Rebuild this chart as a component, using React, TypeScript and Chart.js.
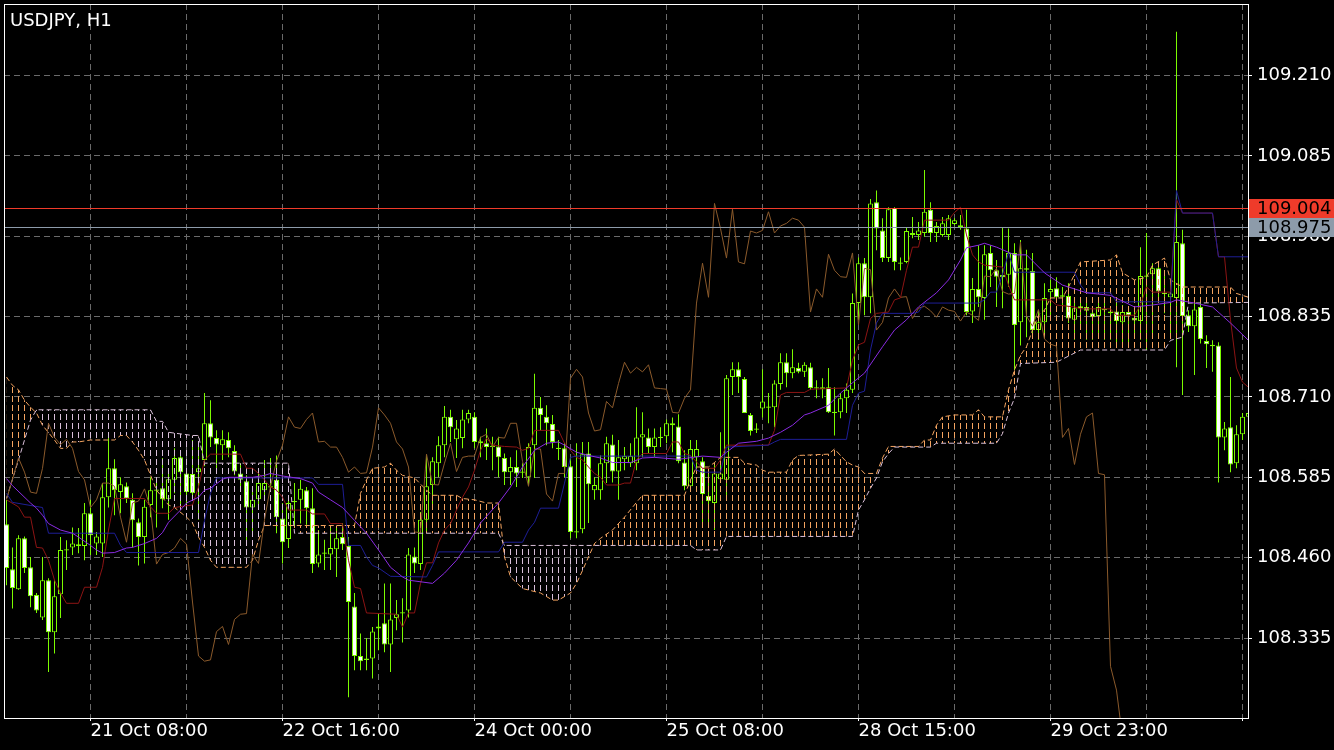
import React, { useEffect, useRef } from "react";
import { Chart, registerables } from "chart.js";

Chart.register(...registerables);
Chart.defaults.font.family = "'DejaVu Sans'";

const title = "USDJPY, H1";
const askPrice = 109.004;
const bidPrice = 108.975;
const yMin = 108.2106;
const yMax = 109.3212;
const yTicks = [108.335, 108.46, 108.585, 108.71, 108.835, 108.96, 109.085, 109.21];
const xTickIdx = [14, 30, 46, 62, 78, 94, 110, 126, 142, 158, 174, 190, 206];
const xLabelIdx = [14, 46, 78, 110, 142, 174, 206];
const xLabels: Record<number, string> = {
  14: "21 Oct 08:00",
  46: "22 Oct 16:00",
  78: "24 Oct 00:00",
  110: "25 Oct 08:00",
  142: "28 Oct 15:00",
  174: "29 Oct 23:00",
};

const opens = [
  108.512,108.442,108.411,108.490,108.445,108.402,108.367,108.425,108.344,108.403,
  108.473,108.476,108.481,108.478,108.529,108.482,108.482,108.554,108.599,108.562,
  108.571,108.550,108.515,108.492,108.542,108.566,108.568,108.551,108.581,108.616,
  108.591,108.590,108.593,108.612,108.669,108.646,108.635,108.643,108.626,108.591,
  108.579,108.538,108.551,108.565,108.569,108.581,108.521,108.489,108.546,108.550,
  108.565,108.537,108.451,108.466,108.465,108.473,108.492,108.478,108.384,108.307,
  108.303,108.303,108.350,108.358,108.325,108.366,108.375,108.378,108.462,108.450,
  108.519,108.573,108.607,108.635,108.679,108.644,108.646,108.675,108.679,108.638,
  108.638,108.634,108.633,108.615,108.593,108.601,108.594,108.585,108.635,108.693,
  108.679,108.668,108.631,108.630,108.602,108.501,108.504,108.622,108.565,108.565,
  108.607,108.636,108.594,108.613,108.607,108.607,108.647,108.647,108.632,108.648,
  108.649,108.666,108.664,108.608,108.571,108.616,108.610,108.556,108.545,108.582,
  108.581,108.741,108.753,108.738,108.682,108.661,108.692,108.695,108.694,108.730,
  108.764,108.747,108.755,108.749,108.756,108.725,108.725,108.725,108.687,108.686,
  108.708,108.721,108.856,108.918,108.865,109.013,108.969,108.926,109.004,108.919,
  108.920,108.962,108.962,108.965,109.001,108.965,108.962,108.962,108.979,108.977,
  108.972,108.843,108.878,108.864,108.934,108.907,108.900,108.900,108.934,108.826,
  108.910,108.906,108.814,108.826,108.873,108.879,108.868,108.867,108.830,108.848,
  108.850,108.840,108.836,108.847,108.840,108.843,108.826,108.842,108.833,108.828,
  108.899,108.901,108.910,108.872,108.865,108.864,108.949,108.837,108.820,108.850,
  108.797,108.791,108.790,108.647,108.663,108.607,108.652,108.679,
];
const highs = [
  108.550,108.476,108.495,108.493,108.461,108.405,108.461,108.428,108.425,108.492,
  108.487,108.507,108.506,108.545,108.550,108.500,108.576,108.654,108.613,108.585,
  108.577,108.560,108.521,108.550,108.585,108.585,108.615,108.596,108.630,108.622,
  108.596,108.643,108.632,108.716,108.705,108.658,108.658,108.655,108.635,108.607,
  108.588,108.570,108.591,108.612,108.615,108.619,108.545,108.554,108.576,108.581,
  108.570,108.568,108.503,108.488,108.507,108.507,108.514,108.492,108.405,108.342,
  108.335,108.352,108.374,108.420,108.420,108.394,108.397,108.475,108.476,108.531,
  108.620,108.616,108.649,108.696,108.690,108.674,108.690,108.690,108.686,108.648,
  108.661,108.648,108.648,108.622,108.616,108.627,108.607,108.638,108.746,108.710,
  108.697,108.682,108.643,108.638,108.616,108.638,108.640,108.640,108.585,108.619,
  108.648,108.651,108.643,108.632,108.638,108.694,108.686,108.661,108.661,108.663,
  108.675,108.678,108.683,108.627,108.643,108.643,108.616,108.591,108.607,108.655,
  108.744,108.764,108.764,108.741,108.685,108.669,108.753,108.716,108.736,108.778,
  108.778,108.784,108.763,108.764,108.763,108.736,108.739,108.755,108.725,108.716,
  108.731,108.871,108.927,108.926,109.018,109.031,108.988,109.005,109.005,108.927,
  108.974,108.990,108.982,109.063,109.013,108.982,108.990,108.993,108.988,108.993,
  109.001,108.895,108.946,108.946,108.946,108.923,108.974,108.972,108.949,108.954,
  108.939,108.934,108.845,108.887,108.892,108.896,108.881,108.887,108.861,108.865,
  108.856,108.850,108.861,108.856,108.850,108.856,108.853,108.850,108.845,108.943,
  108.965,108.918,108.918,108.900,108.892,109.278,108.970,108.845,108.865,108.856,
  108.806,108.798,108.795,108.671,108.741,108.666,108.685,108.690,
];
const lows = [
  108.417,108.381,108.410,108.436,108.383,108.374,108.363,108.282,108.311,108.366,
  108.441,108.464,108.467,108.456,108.464,108.464,108.461,108.538,108.526,108.529,
  108.545,108.476,108.448,108.451,108.523,108.507,108.537,108.519,108.560,108.538,
  108.534,108.550,108.519,108.602,108.632,108.596,108.612,108.616,108.588,108.570,
  108.487,108.492,108.538,108.554,108.562,108.498,108.451,108.475,108.507,108.513,
  108.511,108.436,108.445,108.441,108.441,108.430,108.472,108.243,108.285,108.285,
  108.285,108.272,108.316,108.313,108.282,108.347,108.328,108.367,108.436,108.441,
  108.500,108.538,108.585,108.616,108.640,108.615,108.630,108.669,108.630,108.616,
  108.612,108.596,108.585,108.573,108.573,108.570,108.584,108.573,108.584,108.658,
  108.635,108.630,108.612,108.585,108.490,108.490,108.498,108.514,108.550,108.550,
  108.576,108.577,108.550,108.596,108.601,108.596,108.616,108.622,108.616,108.632,
  108.638,108.624,108.607,108.565,108.568,108.591,108.506,108.506,108.503,108.581,
  108.550,108.713,108.716,108.685,108.650,108.654,108.678,108.669,108.663,108.721,
  108.725,108.739,108.747,108.741,108.721,108.708,108.708,108.685,108.650,108.677,
  108.685,108.716,108.830,108.837,108.840,108.938,108.920,108.920,108.907,108.907,
  108.918,108.957,108.954,108.959,108.951,108.951,108.959,108.954,108.977,108.970,
  108.837,108.825,108.850,108.830,108.881,108.850,108.848,108.881,108.752,108.790,
  108.803,108.809,108.799,108.809,108.830,108.856,108.845,108.825,108.799,108.814,
  108.799,108.799,108.803,108.799,108.799,108.787,108.793,108.787,108.809,108.799,
  108.783,108.803,108.865,108.840,108.809,108.756,108.713,108.811,108.744,108.793,
  108.755,108.749,108.577,108.627,108.593,108.599,108.643,108.671,
];
const closes = [
  108.444,108.413,108.490,108.444,108.400,108.378,108.425,108.344,108.400,108.472,
  108.471,108.482,108.478,108.529,108.495,108.493,108.554,108.599,108.565,108.574,
  108.552,108.518,108.492,108.539,108.565,108.564,108.551,108.582,108.615,108.593,
  108.562,108.560,108.599,108.669,108.647,108.636,108.644,108.630,108.594,108.581,
  108.538,108.550,108.576,108.576,108.571,108.523,108.484,108.545,108.548,108.567,
  108.537,108.450,108.465,108.468,108.475,108.490,108.481,108.391,108.307,108.299,
  108.301,108.345,108.353,108.325,108.364,108.372,108.373,108.465,108.451,108.519,
  108.571,108.610,108.635,108.679,108.663,108.661,108.675,108.685,108.640,108.641,
  108.632,108.632,108.616,108.593,108.601,108.591,108.592,108.632,108.693,108.682,
  108.669,108.640,108.629,108.601,108.500,108.499,108.621,108.574,108.573,108.607,
  108.638,108.594,108.616,108.618,108.618,108.647,108.652,108.632,108.647,108.646,
  108.669,108.669,108.610,108.571,108.629,108.629,108.559,108.548,108.591,108.591,
  108.739,108.753,108.741,108.685,108.657,108.659,108.703,108.693,108.731,108.764,
  108.747,108.756,108.749,108.760,108.724,108.723,108.722,108.686,108.685,108.708,
  108.721,108.856,108.918,108.865,109.011,108.972,108.926,109.002,108.920,108.917,
  108.968,108.965,108.969,108.998,108.965,108.976,108.980,108.988,108.985,108.974,
  108.842,108.878,108.865,108.932,108.907,108.897,108.896,108.934,108.822,108.910,
  108.908,108.814,108.826,108.864,108.878,108.865,108.866,108.832,108.848,108.851,
  108.844,108.834,108.850,108.845,108.843,108.828,108.842,108.837,108.829,108.898,
  108.897,108.910,108.874,108.870,108.871,108.951,108.836,108.820,108.846,108.800,
  108.792,108.789,108.647,108.661,108.605,108.652,108.679,108.685,
];

// Chikou span (brown), one value per bar starting at bar 0
const chikou = [
  108.551,108.582,108.615,108.593,
  108.562,108.560,108.599,108.669,108.647,108.636,108.644,108.630,108.594,108.581,
  108.538,108.550,108.576,108.576,108.571,108.523,108.484,108.545,108.548,108.567,
  108.537,108.450,108.465,108.468,108.475,108.490,108.481,108.391,108.307,108.299,
  108.301,108.345,108.353,108.325,108.364,108.372,108.373,108.465,108.451,108.519,
  108.571,108.610,108.635,108.679,108.663,108.661,108.675,108.685,108.640,108.641,
  108.632,108.632,108.616,108.593,108.601,108.591,108.592,108.632,108.693,108.682,
  108.669,108.640,108.629,108.601,108.500,108.499,108.621,108.574,108.573,108.607,
  108.638,108.594,108.616,108.618,108.618,108.647,108.652,108.632,108.647,108.646,
  108.669,108.669,108.610,108.571,108.629,108.629,108.559,108.548,108.591,108.591,
  108.739,108.753,108.741,108.685,108.657,108.659,108.703,108.693,108.731,108.764,
  108.747,108.756,108.749,108.760,108.724,108.723,108.722,108.686,108.685,108.708,
  108.721,108.856,108.918,108.865,109.011,108.972,108.926,109.002,108.920,108.917,
  108.968,108.965,108.969,108.998,108.965,108.976,108.980,108.988,108.985,108.974,
  108.842,108.878,108.865,108.932,108.907,108.897,108.896,108.934,108.822,108.910,
  108.908,108.814,108.826,108.864,108.878,108.865,108.866,108.832,108.848,108.851,
  108.844,108.834,108.850,108.845,108.843,108.828,108.842,108.837,108.829,108.898,
  108.897,108.910,108.874,108.870,108.871,108.951,108.836,108.820,108.846,108.800,
  108.792,108.789,108.647,108.661,108.605,108.652,108.679,108.685,
  108.591,108.589,108.291,108.254,108.180,
];

// [bar index, price] vertices
const tenkan = [
  [0,108.550],[2,108.539],[3,108.523],[4,108.523],[5,108.476],[6,108.475],[7,108.456],[8,108.425],[9,108.405],[10,108.389],
  [12,108.389],[13,108.414],[15,108.414],[16,108.445],[17,108.503],[18,108.552],[23,108.552],[24,108.539],[25,108.529],[27,108.529],
  [28,108.538],[31,108.542],[32,108.570],[33,108.612],[34,108.621],[39,108.621],[40,108.599],[41,108.599],[42,108.591],[43,108.581],
  [44,108.570],[45,108.565],[46,108.554],[47,108.534],[50,108.534],[51,108.528],[53,108.528],[54,108.513],[56,108.513],[57,108.456],
  [58,108.414],[59,108.412],[60,108.374],[65,108.372],[66,108.352],[67,108.374],[68,108.374],[69,108.420],[70,108.452],[71,108.452],
  [72,108.483],[73,108.503],[74,108.513],[75,108.534],[76,108.554],[77,108.570],[78,108.596],[79,108.627],[80,108.646],[81,108.635],
  [83,108.633],[85,108.632],[86,108.627],[87,108.630],[88,108.658],[92,108.658],[93,108.638],[94,108.627],[95,108.616],[96,108.612],
  [97,108.601],[98,108.591],[99,108.585],[100,108.573],[102,108.573],[103,108.576],[104,108.576],[105,108.612],[106,108.622],[110,108.622],
  [111,108.640],[112,108.640],[113,108.622],[114,108.619],[115,108.609],[116,108.599],[118,108.599],[119,108.612],[120,108.635],[127,108.635],
  [128,108.658],[129,108.713],[130,108.717],[133,108.717],[134,108.722],[140,108.724],[141,108.767],[142,108.791],[143,108.795],[144,108.832],
  [145,108.840],[147,108.842],[148,108.861],[149,108.864],[150,108.907],[151,108.943],[152,108.943],[153,108.985],[157,108.985],[158,108.997],
  [159,109.005],[160,108.962],[161,108.931],[162,108.920],[163,108.915],[166,108.912],[167,108.884],[168,108.861],[174,108.861],[175,108.853],
  [178,108.850],[179,108.847],[184,108.847],[185,108.837],[188,108.837],[189,108.853],[190,108.881],[191,108.873],[194,108.873],[195,109.017],
  [196,108.996],[201,108.996],[202,108.928],[203,108.928],[204,108.830],[205,108.755],[206,108.733],[207,108.725],
];
const kijun = [
  [0,108.560],[1,108.546],[6,108.538],[7,108.498],[18,108.498],[19,108.479],[20,108.468],[32,108.468],[33,108.518],[34,108.560],
  [35,108.584],[51,108.584],[52,108.574],[56,108.574],[57,108.479],[59,108.479],[60,108.461],[61,108.448],[62,108.444],[64,108.431],
  [70,108.430],[71,108.448],[72,108.469],[82,108.469],[83,108.484],[86,108.484],[87,108.503],[88,108.515],[89,108.537],[92,108.537],
  [93,108.576],[94,108.616],[95,108.618],[114,108.618],[115,108.596],[116,108.593],[119,108.593],[120,108.632],[127,108.635],[128,108.640],
  [129,108.644],[140,108.644],[141,108.697],[142,108.716],[143,108.719],[144,108.783],[145,108.825],[146,108.840],[151,108.840],[152,108.842],
  [153,108.856],[162,108.856],[163,108.861],[164,108.873],[165,108.873],[166,108.900],[167,108.934],[168,108.904],[178,108.904],[179,108.884],
  [180,108.872],[184,108.872],[185,108.858],[194,108.858],[195,109.031],[196,108.996],[201,108.996],[202,108.928],[207,108.928],
];
const senkouA = [
  [0,108.741],[1,108.728],[2,108.721],[3,108.705],[4,108.694],[5,108.685],[6,108.666],[8,108.643],[9,108.630],[10,108.630],
  [11,108.640],[12,108.640],[14,108.643],[18,108.643],[19,108.650],[20,108.650],[21,108.640],[22,108.627],[23,108.612],[25,108.565],
  [27,108.542],[28,108.538],[30,108.523],[31,108.514],[32,108.492],[33,108.476],[34,108.456],[35,108.445],[40,108.445],[41,108.456],
  [42,108.487],[43,108.510],[58,108.510],[59,108.560],[60,108.581],[61,108.599],[63,108.601],[64,108.607],[65,108.596],[66,108.588],
  [68,108.584],[70,108.565],[71,108.557],[75,108.557],[76,108.552],[78,108.550],[80,108.545],[82,108.545],[83,108.461],[84,108.430],
  [86,108.412],[89,108.405],[91,108.394],[92,108.394],[94,108.405],[95,108.420],[96,108.440],[97,108.461],[98,108.482],[99,108.490],
  [101,108.503],[103,108.523],[105,108.546],[106,108.557],[113,108.557],[114,108.581],[115,108.601],[117,108.601],[118,108.608],[119,108.616],
  [122,108.616],[123,108.607],[125,108.604],[126,108.596],[127,108.593],[130,108.593],[131,108.612],[132,108.619],[137,108.621],[138,108.629],
  [139,108.619],[140,108.609],[141,108.604],[142,108.601],[143,108.591],[145,108.591],[146,108.615],[147,108.633],[152,108.633],[153,108.643],
  [154,108.643],[155,108.666],[156,108.679],[158,108.682],[161,108.682],[162,108.690],[163,108.679],[166,108.679],[167,108.721],[168,108.752],
  [169,108.775],[170,108.788],[171,108.814],[172,108.837],[173,108.845],[174,108.864],[176,108.864],[177,108.881],[179,108.920],[184,108.923],
  [185,108.931],[186,108.903],[188,108.892],[190,108.896],[191,108.915],[193,108.926],[194,108.892],[196,108.881],[204,108.881],[205,108.871],
  [207,108.865],
];
const senkouB = [
  [0,108.552],[2,108.612],[4,108.674],[5,108.690],[24,108.690],[25,108.672],[26,108.672],[27,108.655],[31,108.650],[32,108.650],
  [33,108.607],[47,108.607],[48,108.498],[82,108.498],[83,108.479],[114,108.479],[115,108.472],[119,108.472],[120,108.493],[141,108.493],
  [142,108.534],[143,108.550],[144,108.568],[145,108.584],[146,108.609],[147,108.622],[148,108.632],[154,108.632],[155,108.638],[165,108.638],
  [166,108.653],[167,108.685],[168,108.708],[169,108.762],[175,108.764],[179,108.783],[193,108.783],[194,108.798],[196,108.803],[197,108.856],
  [207,108.857],
];
const movingAvg = [
  [0,108.583],[1,108.572],[4,108.545],[5,108.537],[6,108.526],[7,108.513],[9,108.503],[11,108.498],[12,108.492],[14,108.479],
  [15,108.472],[16,108.467],[18,108.468],[20,108.475],[21,108.476],[23,108.482],[25,108.490],[26,108.499],[27,108.515],[29,108.534],
  [30,108.545],[32,108.554],[33,108.565],[34,108.568],[36,108.582],[37,108.585],[41,108.585],[43,108.588],[44,108.591],[46,108.587],
  [49,108.583],[51,108.576],[52,108.562],[54,108.550],[56,108.538],[58,108.518],[60,108.498],[62,108.472],[64,108.445],[66,108.430],
  [67,108.425],[71,108.420],[73,108.436],[75,108.456],[77,108.483],[79,108.514],[82,108.545],[84,108.570],[86,108.601],[88,108.627],
  [90,108.638],[92,108.640],[93,108.635],[95,108.624],[97,108.619],[99,108.615],[101,108.608],[104,108.608],[106,108.615],[108,108.616],
  [112,108.613],[116,108.618],[119,108.616],[120,108.624],[122,108.638],[125,108.641],[127,108.646],[129,108.655],[131,108.666],[133,108.682],
  [134,108.685],[137,108.697],[139,108.716],[141,108.732],[143,108.747],[146,108.788],[148,108.814],[150,108.830],[152,108.850],[155,108.872],
  [157,108.892],[159,108.923],[160,108.942],[162,108.946],[163,108.949],[165,108.943],[168,108.931],[170,108.931],[173,108.903],[176,108.884],
  [180,108.872],[184,108.868],[188,108.850],[191,108.853],[194,108.857],[195,108.861],[198,108.856],[201,108.850],[204,108.825],[207,108.798],
];

const GREEN = "#7CFC00";
const GRID = "#6a6a6a";
const ASK_COLOR = "#ef3b2a";
const BID_COLOR = "#8d9baa";

export default function App() {
  const ref = useRef<HTMLCanvasElement>(null);

  useEffect(() => {
    const canvas = ref.current;
    if (!canvas) return;

    const makeHatch = (color: string) => {
      const c = document.createElement("canvas");
      c.width = 6;
      c.height = 9;
      const g = c.getContext("2d")!;
      g.fillStyle = color;
      g.fillRect(0, 0, 1, 6);
      return g.createPattern(c, "repeat")!;
    };
    const hatchUp = makeHatch("#f4a460");
    const hatchDown = makeHatch("#d8bfd8");

    const idx = opens.map((_, i) => i);
    const pts = (arr: number[][]) => arr.map(([x, y]) => ({ x, y }));

    const overlay = {
      id: "mt4overlay",
      afterDatasetsDraw(chart: any) {
        const { ctx, chartArea: a, scales } = chart;
        const y = scales.y;
        ctx.save();
        ctx.lineWidth = 1;
        const ya = Math.round(y.getPixelForValue(askPrice)) + 0.5;
        const yb = Math.round(y.getPixelForValue(bidPrice)) + 0.5;
        ctx.strokeStyle = ASK_COLOR;
        ctx.beginPath();
        ctx.moveTo(a.left, ya);
        ctx.lineTo(a.right, ya);
        ctx.stroke();
        ctx.strokeStyle = BID_COLOR;
        ctx.beginPath();
        ctx.moveTo(a.left, yb);
        ctx.lineTo(a.right, yb);
        ctx.stroke();
        ctx.strokeStyle = "#ffffff";
        ctx.strokeRect(a.left + 0.5, a.top + 0.5, a.right - a.left, a.bottom - a.top);
        ctx.restore();
      },
      afterDraw(chart: any) {
        const { ctx, chartArea: a, scales, width } = chart;
        const y = scales.y;
        ctx.save();
        ctx.font = "18px 'DejaVu Sans'";
        const tag = (price: number, bg: string) => {
          const yy = Math.round(y.getPixelForValue(price));
          ctx.fillStyle = bg;
          ctx.fillRect(a.right + 1, yy - 9, width - a.right - 1, 19);
          ctx.fillStyle = "#000000";
          ctx.textBaseline = "middle";
          ctx.fillText(price.toFixed(3), a.right + 9, yy + 1);
        };
        tag(bidPrice, BID_COLOR);
        tag(askPrice, ASK_COLOR);
        ctx.fillStyle = "#ffffff";
        ctx.textBaseline = "alphabetic";
        ctx.fillText(title, a.left + 6, 26);
        ctx.restore();
      },
    };

    const lineBase = {
      type: "line" as const,
      borderWidth: 1,
      pointRadius: 0,
      tension: 0,
      fill: false,
    };

    const chart = new Chart(canvas, {
      type: "bar",
      data: {
        datasets: [
          {
            type: "bar",
            data: idx.map((i) => ({ x: i, y: [lows[i], highs[i]] })) as any,
            backgroundColor: GREEN,
            borderWidth: 0,
            barThickness: 1,
            grouped: false,
            inflateAmount: 0,
            order: 20,
          } as any,
          {
            type: "bar",
            data: idx.map((i) => ({ x: i, y: [opens[i], closes[i]] })) as any,
            backgroundColor: idx.map((i) => (closes[i] > opens[i] ? "#000000" : "#ffffff")),
            borderColor: GREEN,
            borderWidth: 1,
            borderSkipped: false,
            barThickness: 5,
            grouped: false,
            inflateAmount: 0,
            order: 19,
          } as any,
          {
            ...lineBase,
            data: pts(senkouA),
            borderColor: "#f4a460",
            borderDash: [5, 3],
            fill: { target: "+1", above: hatchUp, below: hatchDown },
            order: 10,
          } as any,
          {
            ...lineBase,
            data: pts(senkouB),
            borderColor: "#d8bfd8",
            borderDash: [5, 3],
            order: 9,
          } as any,
          {
            ...lineBase,
            data: chikou.map((v, i) => ({ x: i, y: v })),
            borderColor: "#8b5a2b",
            order: 6,
          } as any,
          {
            ...lineBase,
            data: pts(tenkan),
            borderColor: "#8c1414",
            order: 5,
          } as any,
          {
            ...lineBase,
            data: pts(kijun),
            borderColor: "#1e1e96",
            order: 4,
          } as any,
          {
            ...lineBase,
            data: pts(movingAvg),
            borderColor: "#8a2be2",
            order: 3,
          } as any,
        ],
      },
      options: {
        responsive: true,
        maintainAspectRatio: false,
        animation: false,
        events: [],
        layout: { padding: { left: 4, top: 4, right: 0, bottom: 0 } },
        plugins: {
          legend: { display: false },
          tooltip: { enabled: false },
        },
        scales: {
          x: {
            type: "linear",
            min: -0.4167,
            max: 206.9167,
            offset: false,
            afterBuildTicks: (s: any) => {
              s.ticks = xTickIdx.map((v) => ({ value: v }));
            },
            afterFit: (s: any) => {
              s.height = 32;
              s.paddingLeft = 0;
              s.paddingRight = 0;
              s.paddingTop = 0;
              s.paddingBottom = 0;
            },
            ticks: {
              autoSkip: false,
              maxRotation: 0,
              minRotation: 0,
              align: "start",
              padding: 0,
              color: "#ffffff",
              font: { size: 18, family: "'DejaVu Sans'" },
              callback: (v: any) => xLabels[Number(v)] ?? "",
            },
            grid: {
              offset: false,
              color: GRID,
              lineWidth: 1,
              drawTicks: true,
              tickLength: 3,
              tickColor: (c: any) =>
                c.tick && xLabelIdx.includes(c.tick.value) ? "#ffffff" : "rgba(0,0,0,0)",
              tickBorderDash: [],
            },
            border: { display: false, dash: [6, 4] },
          } as any,
          y: {
            type: "linear",
            position: "right",
            min: yMin,
            max: yMax,
            beginAtZero: false,
            afterBuildTicks: (s: any) => {
              s.ticks = yTicks.map((v) => ({ value: v }));
            },
            afterFit: (s: any) => {
              s.width = 86;
              s.paddingTop = 0;
              s.paddingBottom = 0;
              s.paddingLeft = 0;
              s.paddingRight = 0;
            },
            ticks: {
              padding: 5,
              color: "#ffffff",
              font: { size: 18, family: "'DejaVu Sans'" },
              callback: (v: any) => Number(v).toFixed(3),
            },
            grid: {
              color: GRID,
              lineWidth: 1,
              drawTicks: true,
              tickLength: 4,
              tickColor: "#ffffff",
              tickBorderDash: [],
            },
            border: { display: false, dash: [6, 4] },
          } as any,
        },
      } as any,
      plugins: [overlay],
    });

    return () => chart.destroy();
  }, []);

  return (
    <div
      style={{
        position: "fixed",
        left: 0,
        top: 0,
        width: 1334,
        height: 750,
        background: "#000000",
      }}
    >
      <canvas ref={ref} />
    </div>
  );
}
